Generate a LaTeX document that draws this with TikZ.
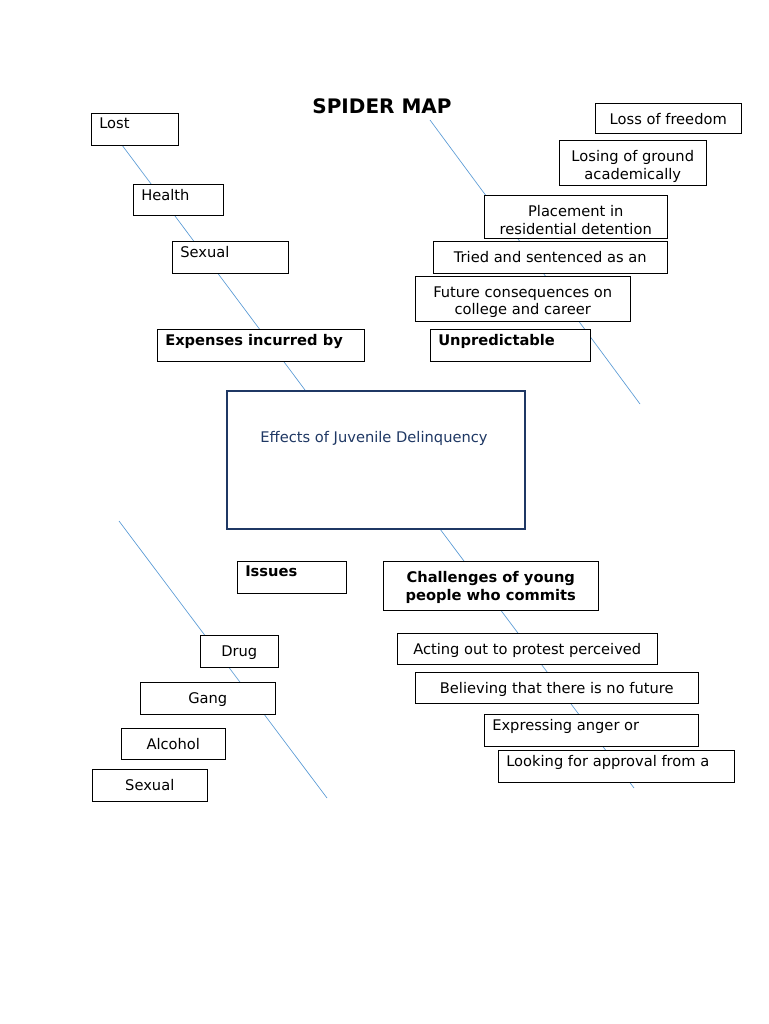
\documentclass[tikz,border=0pt]{standalone}
\usepackage{fontspec}
\setmainfont{DejaVu Sans}
\definecolor{legblue}{RGB}{91,155,213}
\definecolor{navy}{RGB}{31,56,100}
\tikzset{
  box/.style={draw, fill=white, anchor=north west, inner sep=0pt, font=\fontsize{11}{13}\selectfont},
  head/.style={box, font=\fontsize{11}{13}\selectfont\bfseries},
  leg/.style={legblue, line width=0.5pt}
}
\newcommand{\bx}[7][box]{% style, name, x1,y1,x2,y2, text
  \node[#1, minimum width={(#5-#3)*0.75pt}, minimum height={(#6-#4)*0.75pt}] (#2) at (#3,#4) {};
  \node[anchor=north, align=center, font=\fontsize{11}{13}\selectfont] at ($(#2.north)+(0,6)$) {#7};}
\newcommand{\lb}[7][box]{%
  \node[#1, minimum width={(#5-#3)*0.75pt}, minimum height={(#6-#4)*0.75pt}] (#2) at (#3,#4) {};
  \node[anchor=north west, inner sep=0pt, #1, draw=none, fill=none] at ($(#2.north west)+(8,5)$) {#7};}
\usetikzlibrary{calc}
\begin{document}
\begin{tikzpicture}[x=0.75pt, y=-0.75pt]
\useasboundingbox (0,0) rectangle (768,1024);
\node[font=\fontsize{15}{18}\selectfont\bfseries] (title) at (382,106) {SPIDER MAP};
% legs
\coordinate (l1a) at (113,133); \coordinate (l1b) at (305,390);
\coordinate (l2a) at (430,120); \coordinate (l2b) at (640,404);
\coordinate (l3a) at (119,521); \coordinate (l3b) at (327,798);
\coordinate (l4a) at (434,521); \coordinate (l4b) at (634,788);
\draw[leg] (l1a) -- (l1b);
\draw[leg] (l2a) -- (l2b);
\draw[leg] (l3a) -- (l3b);
\draw[leg] (l4a) -- (l4b);
% center
\node[draw=navy, line width=1.5pt, fill=white, anchor=north west, minimum width={298*0.75pt}, minimum height={138*0.75pt}] (center) at (226,390) {};
\node[text=navy, font=\fontsize{11}{13}\selectfont] (ctext) at (374,438) {Effects of Juvenile Delinquency};
% upper left
\lb{lost}{91}{113}{178}{145}{Lost}
\lb{health}{133}{184}{223}{215}{Health}
\lb{sexa}{172}{241}{288}{273}{Sexual}
\lb[head]{expenses}{157}{329}{364}{361}{Expenses incurred by}
% upper right
\lb[head]{unpred}{430}{329}{590}{361}{Unpredictable}
\bx{freedom}{595}{103}{741}{133}{Loss of freedom}
\bx{ground}{559}{140}{706}{185}{Losing of ground\\academically}
\bx{placement}{484}{195}{667}{238}{Placement in\\residential detention}
\bx{tried}{433}{241}{667}{273}{Tried and sentenced as an}
\bx{future}{415}{276}{630}{321}{Future consequences on\\college and career}
% lower left
\lb[head]{issues}{237}{561}{346}{593}{Issues}
\bx{drug}{200}{635}{278}{667}{Drug}
\bx{gang}{140}{682}{275}{714}{Gang}
\bx{alcohol}{121}{728}{225}{759}{Alcohol}
\bx{sexb}{92}{769}{207}{801}{Sexual}
% lower right
\bx[head]{challenges}{383}{561}{598}{610}{\bfseries Challenges of young\\\bfseries people who commits}
\bx{acting}{397}{633}{657}{664}{Acting out to protest perceived}
\bx{believing}{415}{672}{698}{703}{Believing that there is no future}
\lb{anger}{484}{714}{698}{746}{Expressing anger or}
\lb{approval}{498}{750}{734}{782}{Looking for approval from a}
\end{tikzpicture}
\end{document}
